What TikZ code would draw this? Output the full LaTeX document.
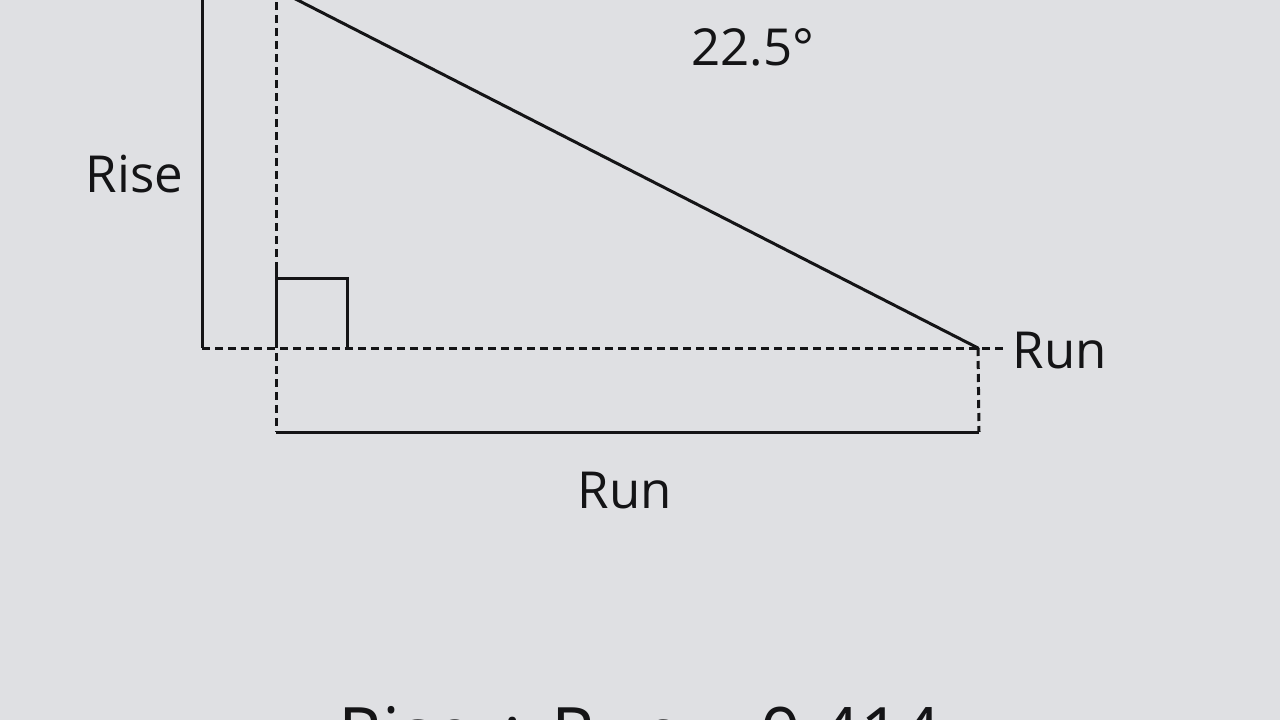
\documentclass[tikz,border=0pt]{standalone}
\usepackage{fontspec}
\setmainfont{Open Sans}
\definecolor{bg}{RGB}{223,224,227}
\definecolor{ink}{RGB}{20,20,22}
\begin{document}
\begin{tikzpicture}[x=1pt,y=-1pt,
  solidline/.style={line width=3pt, draw=ink},
  dashline/.style={line width=3pt, draw=ink, dash pattern=on 8pt off 5pt},
  lbl/.style={text=ink, font=\fontsize{51}{60}\selectfont, inner sep=0pt, anchor=base},
  biglbl/.style={text=ink, font=\fontsize{71}{80}\selectfont, inner sep=0pt, anchor=base}]
\useasboundingbox (0,0) rectangle (1280,720);
\clip (0,0) rectangle (1280,720);
\fill[bg] (0,0) rectangle (1280,720);
% coordinates
\coordinate (riseTop) at (202,-10);
\coordinate (riseBot) at (202,348);
\coordinate (apex) at (276,-11);
\coordinate (corner) at (276,348);
\coordinate (lowLeft) at (276,432);
\coordinate (tip) at (978,348);
\coordinate (lowRight) at (979,432);
\coordinate (dashEnd) at (1003,348);
\coordinate (sqTL) at (276,278);
\coordinate (sqTR) at (347,278);
\coordinate (sqBR) at (347,348);
% lines
\draw[solidline] (riseTop) -- (riseBot);
\draw[dashline] (riseBot) -- (dashEnd);
\draw[dashline] (apex) -- (lowLeft);
\draw[solidline] (lowLeft) -- (lowRight);
\draw[dashline] (tip) -- (lowRight);
\draw[solidline, line cap=round] (apex) -- (tip);
\draw[solidline] (276,267) -- (sqTL) -- (sqTR) -- (sqBR);
\draw[solidline] (sqTL) -- (corner);
% labels
\node[lbl] (rise) at (134.5,192) {Rise};
\node[lbl] (angle) at (753,65) {22.5°};
\node[lbl] (runR) at (1060,368) {Run};
\node[lbl] (runB) at (625,508) {Run};
\node[biglbl] (ratio) at (640,758) {Rise ÷ Run = 0.414};
\end{tikzpicture}
\end{document}
